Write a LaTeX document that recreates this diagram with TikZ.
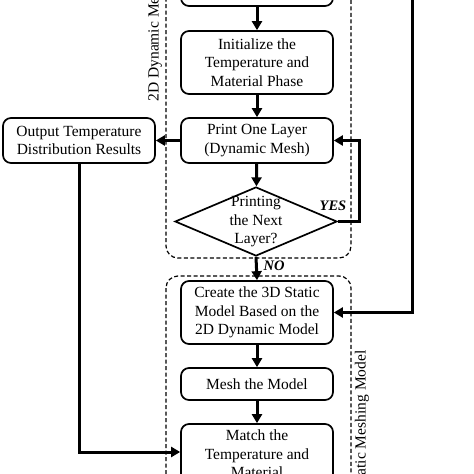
\documentclass[tikz,border=0pt]{standalone}
\usepackage{fontspec}
\setmainfont{Liberation Serif}
\usetikzlibrary{arrows.meta,shapes.geometric}
\begin{document}
\begin{tikzpicture}[x=1pt,y=1pt,
  box/.style={draw, rounded corners=8pt, line width=1.7pt, minimum width=152pt,
    align=center, inner sep=0pt, font=\fontsize{15.5}{18.5}\selectfont},
  conn/.style={line width=3pt, -{Triangle[length=9pt,width=10pt]}},
  region/.style={draw, line width=1.2pt, rounded corners=12pt, dash pattern=on 4pt off 2.5pt},
  lbl/.style={font=\fontsize{15.5}{18.5}\selectfont},
  yn/.style={font=\fontsize{14.5}{17}\selectfont\bfseries\itshape}]
\useasboundingbox (0,0) rectangle (474,-474);
\clip (0,0) rectangle (474,-474);
% regions
\draw[region] (166,60) rectangle (351,-258);
\draw[region] (166,-276) rectangle (351,-540);
\node[lbl, rotate=90, anchor=west] (r1) at (155,-105) {2D Dynamic Meshing Model};
\node[lbl, rotate=90, anchor=east] (r2) at (362,-347) {3D Static Meshing Model};
% nodes
\node[box, minimum height=46pt] (top) at (257,17) {};
\node[box, minimum height=63pt] (init) at (257,-62.5) {Initialize the\\Temperature and\\Material Phase};
\node[box, minimum height=45pt] (print) at (257,-140.5) {Print One Layer\\(Dynamic Mesh)};
\node[box, minimum height=45pt] (out) at (79,-140.5) {Output Temperature\\Distribution Results};
\node[diamond, draw, line width=1.7pt, minimum width=162pt, minimum height=69pt, inner sep=0pt] (dec) at (256,-221.5) {};
\node[lbl, align=center] (dect) at (256,-222) {Printing\\the Next\\Layer?};
\node[box, minimum height=63pt] (create) at (257,-312.5) {Create the 3D Static\\Model Based on the\\2D Dynamic Model};
\node[box, minimum height=32pt] (mesh) at (257,-384) {Mesh the Model};
\node[box, minimum height=78pt] (match) at (257,-463) {Match the\\Temperature and\\Material\\Phase};
% connectors
\draw[conn] (top) -- (init);
\draw[conn] (init) -- (print);
\draw[conn] (print) -- (out);
\draw[conn] (print) -- (dec);
\coordinate (yr) at (359,-221.5);
\draw[conn] (dec.east) -- (yr) |- (print.east);
\node[yn] (yes) at (333,-206) {YES};
\draw[conn] (dec.south) -- (create.north);
\node[yn] (no) at (274,-266) {NO};
\draw[conn] (create) -- (mesh);
\draw[conn] (mesh) -- (match);
\coordinate (rt) at (412,10);
\draw[conn] (rt) |- (create.east);
\draw[conn] (out.south) |- ([yshift=11pt]match.west);
\end{tikzpicture}
\end{document}
